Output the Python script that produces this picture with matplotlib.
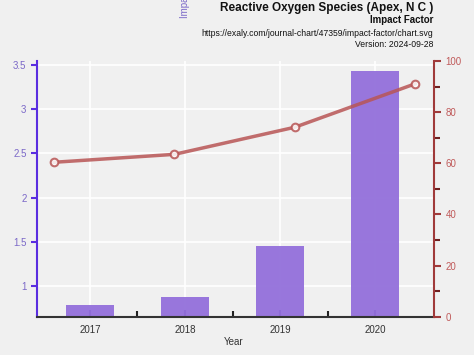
import matplotlib.pyplot as plt
from matplotlib.ticker import MultipleLocator, FixedLocator

plt.rcParams['font.family'] = ['Liberation Sans', 'DejaVu Sans']

years = [2017, 2018, 2019, 2020]
year_labels = ["2017", "2018", "2019", "2020"]
impact_factor = [0.782, 0.876, 1.452, 3.432]
percentile = [60.4, 63.5, 74.1, 91.1]

bg = "#f0f0f0"
fig = plt.figure(figsize=(4.74, 3.55), dpi=100, facecolor=bg)
pos = [0.078, 0.108, 0.837, 0.720]

ax = fig.add_axes(pos, facecolor=bg)
ax.bar(years, impact_factor, width=0.5, color="#9370db", alpha=0.95, zorder=2)
ax.set_xlim(2016.443, 2020.615)
ax.set_ylim(0.653, 3.545)
ax.set_xticks(years)
ax.set_xticklabels(year_labels)
ax.xaxis.set_minor_locator(FixedLocator([2017.5, 2018.5, 2019.5]))
ax.set_yticks([1, 1.5, 2, 2.5, 3, 3.5])
ax.set_yticklabels(["1", "1.5", "2", "2.5", "3", "3.5"])
ax.grid(True, color="white", linewidth=1.2, zorder=0)
ax.set_axisbelow(True)
for s in ["top", "right"]:
    ax.spines[s].set_visible(False)
ax.spines["left"].set_color("#5a2ee0")
ax.spines["left"].set_linewidth(1.5)
ax.spines["bottom"].set_color("#333333")
ax.spines["bottom"].set_linewidth(1.5)
ax.tick_params(axis="y", colors="#5a2ee0", labelcolor="#7b68c8", labelsize=7, length=4, width=1.5)
ax.tick_params(axis="x", which="major", direction="in", color="#3a1a8a", labelcolor="#333333",
               labelsize=7, length=5, width=1.5, pad=6)
ax.tick_params(axis="x", which="minor", direction="in", color="#222222", length=4, width=1.5)
ax.set_xlabel("Year", fontsize=7, color="#333333", labelpad=0)
ax.xaxis.set_label_coords(0.495, -0.08)

# second axes for the line, with its own point-style x scale
ax2 = fig.add_axes(pos)
ax2.patch.set_visible(False)
ax2.plot(range(len(years)), percentile, color="#b85555", alpha=0.85, linewidth=2.5,
         marker="o", markersize=5.5, markerfacecolor="white", markeredgewidth=1.5,
         markeredgecolor="#b85555", zorder=3)
ax2.set_xlim(-0.141, 3.154)
ax2.set_ylim(0, 100)
ax2.set_xticks([])
ax2.yaxis.tick_right()
ax2.spines["right"].set_color("#a03a3a")
ax2.spines["right"].set_linewidth(1.5)
for s in ["top", "left", "bottom"]:
    ax2.spines[s].set_visible(False)
ax2.set_yticks([0, 20, 40, 60, 80, 100])
ax2.yaxis.set_minor_locator(MultipleLocator(10))
ax2.tick_params(axis="y", which="major", colors="#a03a3a", labelcolor="#c05a5a", labelsize=7,
                length=5, width=1.5)
ax2.tick_params(axis="y", which="minor", colors="#702020", length=4, width=1.5)

fig.text(0.914, 0.978, "Reactive Oxygen Species (Apex, N C )", ha="right", va="center",
         fontsize=8.5, fontweight="bold", color="#111111")
fig.text(0.914, 0.944, "Impact Factor", ha="right", va="center", fontsize=7,
         fontweight="bold", color="#111111")
fig.text(0.914, 0.905, "https://exaly.com/journal-chart/47359/impact-factor/chart.svg",
         ha="right", va="center", fontsize=6.2, color="#111111")
fig.text(0.914, 0.874, "Version: 2024-09-28", ha="right", va="center", fontsize=6.2,
         color="#111111")
fig.text(0.39, 0.949, "Impact Factor", rotation=90, ha="center", va="bottom", fontsize=7,
         color="#7b68c8")

fig.savefig("out.png", dpi=100, facecolor=bg)
